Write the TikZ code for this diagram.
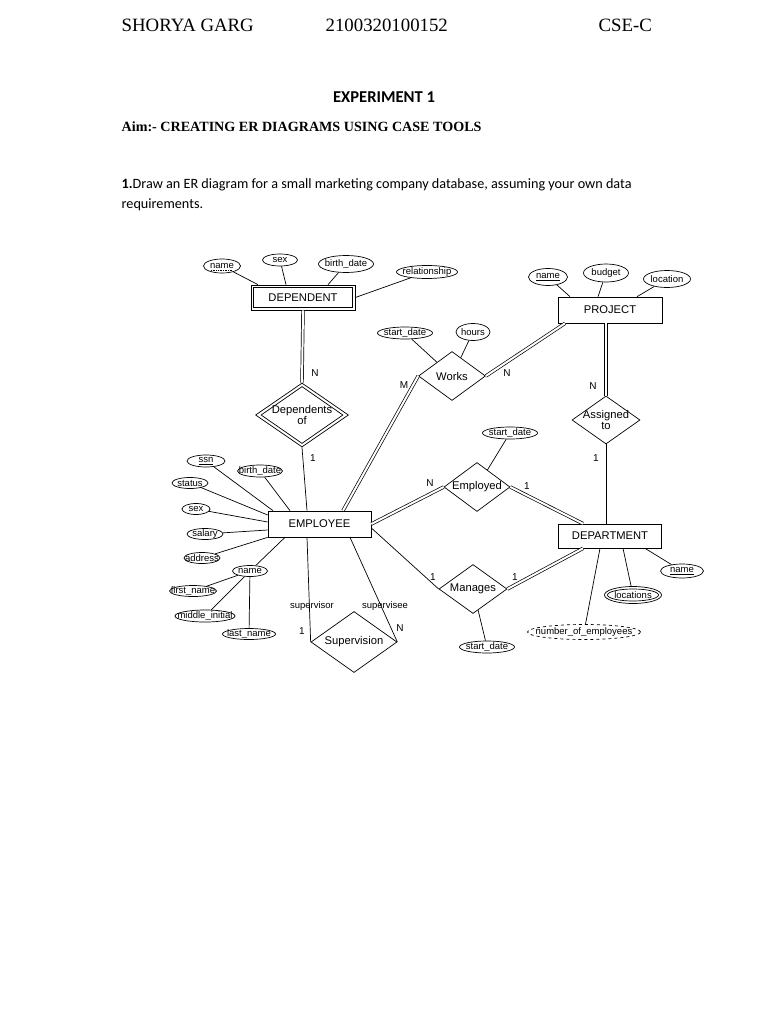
\documentclass[tikz,border=0pt]{standalone}
\usepackage{fontspec}
\setmainfont{Liberation Serif}
\newfontfamily\calfont{Carlito}
\newfontfamily\erfont{Liberation Sans}
\usetikzlibrary{shapes.geometric}

\begin{document}
\begin{tikzpicture}[x=1pt, y=-1pt, line width=0.7pt,
  erfnt/.style={font=\erfont\fontsize{11.2}{9}\selectfont},
  entity/.style={draw, minimum width=#1, minimum height=24, inner sep=0pt, erfnt},
  rel/.style 2 args={draw, diamond, minimum width=#1, minimum height=#2, inner sep=0pt},
  reltext/.style={erfnt, align=center},
  attr/.style 2 args={draw, ellipse, minimum width=#1, minimum height=#2, inner sep=0pt},
  attrtext/.style={font=\erfont\fontsize{9.5}{10}\selectfont},
  card/.style={font=\erfont\fontsize{10}{10}\selectfont},
  dbl/.style={double, double distance=2}]
\path[use as bounding box, fill=white] (0,0) rectangle (768,1024);

% header
\node[anchor=base west, font=\fontsize{18.8}{22}\selectfont] (hname) at (118,32) {SHORYA GARG};
\node[anchor=base west, font=\fontsize{18.8}{22}\selectfont] (hroll) at (322,32) {2100320100152};
\node[anchor=base west, font=\fontsize{18.8}{22}\selectfont] (hsec) at (595,32) {CSE-C};
\node[anchor=base, font=\calfont\bfseries\fontsize{16.6}{20}\selectfont] (title) at (384,103) {EXPERIMENT 1};
\node[anchor=base west, font=\bfseries\fontsize{14.1}{16}\selectfont] (aim) at (118,132) {Aim:- CREATING ER DIAGRAMS USING CASE TOOLS};
\node[anchor=base west, font=\calfont\fontsize{14.2}{17}\selectfont] (q1) at (118,189) {\textbf{1.}Draw an ER diagram for a small marketing company database, assuming your own data};
\node[anchor=base west, font=\calfont\fontsize{14.2}{17}\selectfont] (q2) at (118,209) {requirements.};

% entities
\node[entity=104, minimum height=25] (dependent) at (303,297.5) {DEPENDENT};
\draw ([xshift=3,yshift=-3]dependent.north west) rectangle ([xshift=-3,yshift=3]dependent.south east);
\node[entity=104, minimum height=26] (project) at (610,310) {PROJECT};
\node[entity=103, minimum height=26] (emp) at (319.5,524) {EMPLOYEE};
\node[entity=103] (dept) at (610,536) {DEPARTMENT};

% relationships
\node[rel={93}{64}, label={[reltext]center:Dependents\\of}] (depof) at (302,415) {};
\draw ([yshift=-4]depof.north) -- ([xshift=-6]depof.east) -- ([yshift=4]depof.south) -- ([xshift=6]depof.west) -- cycle;
\node[rel={67}{49}, label={[reltext]center:Works}] (works) at (452,376) {};
\node[rel={68}{48}, label={[reltext]center:Assigned\\to}] (assigned) at (606,420) {};
\node[rel={66}{49}, label={[reltext]center:Employed}] (employed) at (477,487) {};
\node[rel={68}{49}, label={[reltext]center:Manages}] (manages) at (473,589) {};
\node[rel={86}{61}, label={[reltext]center:Supervision}] (superv) at (354,642) {};

% attributes
\node[attr={37}{14}, label={[attrtext]center:name}] (dname) at (222,266) {};
\node[attr={35}{12}, label={[attrtext]center:sex}] (dsex) at (280,260) {};
\node[attr={55}{17}, label={[attrtext]center:birth\_date}] (dbirth) at (346,264) {};
\node[attr={61}{13}, label={[attrtext]center:relationship}] (drel) at (427,272) {};
\node[attr={55}{12}, label={[attrtext]center:start\_date}] (wstart) at (405,333) {};
\node[attr={34}{17}, label={[attrtext]center:hours}] (whours) at (473,332) {};
\node[attr={39}{17}, label={[attrtext]center:\underline{name}}] (pname) at (548,277) {};
\node[attr={45}{18}, label={[attrtext]center:budget}] (pbudget) at (606,273) {};
\node[attr={47}{17}, label={[attrtext]center:location}] (ploc) at (667,279) {};
\node[attr={38}{12}, label={[attrtext]center:\underline{ssn}}] (essn) at (206,461) {};
\node[attr={45}{12}, label={[attrtext]center:birth\_date}] (ebirth) at (260,471) {};
\node[attr={36}{11}, label={[attrtext]center:status}] (estatus) at (190,483) {};
\node[attr={28}{11}, label={[attrtext]center:sex}] (esex) at (196,509) {};
\node[attr={36}{11}, label={[attrtext]center:salary}] (esalary) at (205,534) {};
\node[attr={36}{11}, label={[attrtext]center:address}] (eaddr) at (202,558) {};
\node[attr={35}{11}, label={[attrtext]center:name}] (ename) at (250,571) {};
\node[attr={47}{11}, label={[attrtext]center:first\_name}] (efirst) at (193,591) {};
\node[attr={60}{12}, label={[attrtext]center:middle\_initial}] (emiddle) at (205,616) {};
\node[attr={53}{11}, label={[attrtext]center:last\_name}] (elast) at (249,634) {};
\node[attr={55}{12}, label={[attrtext]center:start\_date}] (estart) at (510,433) {};
\node[attr={55}{12}, label={[attrtext]center:start\_date}] (mstart) at (487,647) {};
\node[attr={43}{14}, label={[attrtext]center:\underline{name}}] (dptname) at (682,571) {};
\node[attr={57}{17}, label={[attrtext]center:locations}] (dptloc) at (633,595) {};
\draw (dptloc.center) ellipse [x radius=25.5, y radius=6];
\node[attr={113}{15}, dashed, label={[attrtext]center:number\_of\_employees}] (dptnum) at (584,632) {};

% cardinalities
\node[card] (c1) at (315,373) {N};
\node[card] (c2) at (313,458) {1};
\node[card] (c3) at (404,385) {M};
\node[card] (c4) at (507,373) {N};
\node[card] (c5) at (593,386) {N};
\node[card] (c6) at (596,458) {1};
\node[card] (c7) at (430,483) {N};
\node[card] (c8) at (527,486) {1};
\node[card] (c9) at (433,577) {1};
\node[card] (c10) at (515,577) {1};
\node[attrtext] (rsup) at (312,606) {supervisor};
\node[attrtext] (rsub) at (385,606) {supervisee};
\node[card] (c11) at (302,631) {1};
\node[card] (c12) at (400,628) {N};

% attribute lines
\draw[densely dotted] ([xshift=-11,yshift=-4]dname.center) -- ([xshift=11,yshift=-4]dname.center);
\draw (dname) -- ([xshift=-45]dependent.north);
\draw (dsex) -- ([xshift=-17]dependent.north);
\draw (dbirth) -- ([xshift=25]dependent.north);
\draw (drel) -- (dependent.east);
\draw (wstart) -- (works);
\draw (whours) -- (works);
\draw (pname) -- ([xshift=-40]project.north);
\draw (pbudget) -- ([xshift=-12]project.north);
\draw (ploc) -- ([xshift=27]project.north);
\draw (essn) -- ([xshift=-46.5]emp.north);
\draw (ebirth) -- ([xshift=-29.5]emp.north);
\draw (estatus) -- ([yshift=9]emp.west);
\draw (esex) -- ([yshift=2]emp.west);
\draw (esalary) -- ([yshift=-6]emp.west);
\draw (eaddr) -- (emp.south west);
\draw (ename) -- ([xshift=-34.5]emp.south);
\draw (efirst) -- (ename);
\draw (emiddle) -- (ename);
\draw (elast) -- (ename);
\draw (estart) -- (employed);
\draw (mstart) -- (manages);
\draw (dptname) -- ([xshift=35]dept.south);
\draw (dptloc) -- ([xshift=13]dept.south);
\draw (dptnum) -- ([xshift=-10]dept.south);

% relationship lines
\draw[dbl] (dependent.south) -- (depof.north);
\draw (depof.south) -- ([xshift=-12.5]emp.north);
\draw[dbl] ([xshift=23.5]emp.north) -- (works.west);
\draw[dbl] (works.east) -- ([xshift=-45]project.south);
\draw[dbl] (project.south -| assigned.north) -- (assigned.north);
\draw (assigned.south) -- (assigned.south |- dept.north);
\draw[dbl] (emp.east) -- (employed.west);
\draw[dbl] (employed.east) -- ([xshift=-27]dept.north);
\draw ([yshift=-4]emp.east) -- (manages.west);
\draw[dbl] (manages.east) -- ([xshift=-27]dept.south);
\draw ([xshift=-12.5]emp.south) -- (superv.west);
\draw ([xshift=30.5]emp.south) -- (superv.east);
\end{tikzpicture}
\end{document}
